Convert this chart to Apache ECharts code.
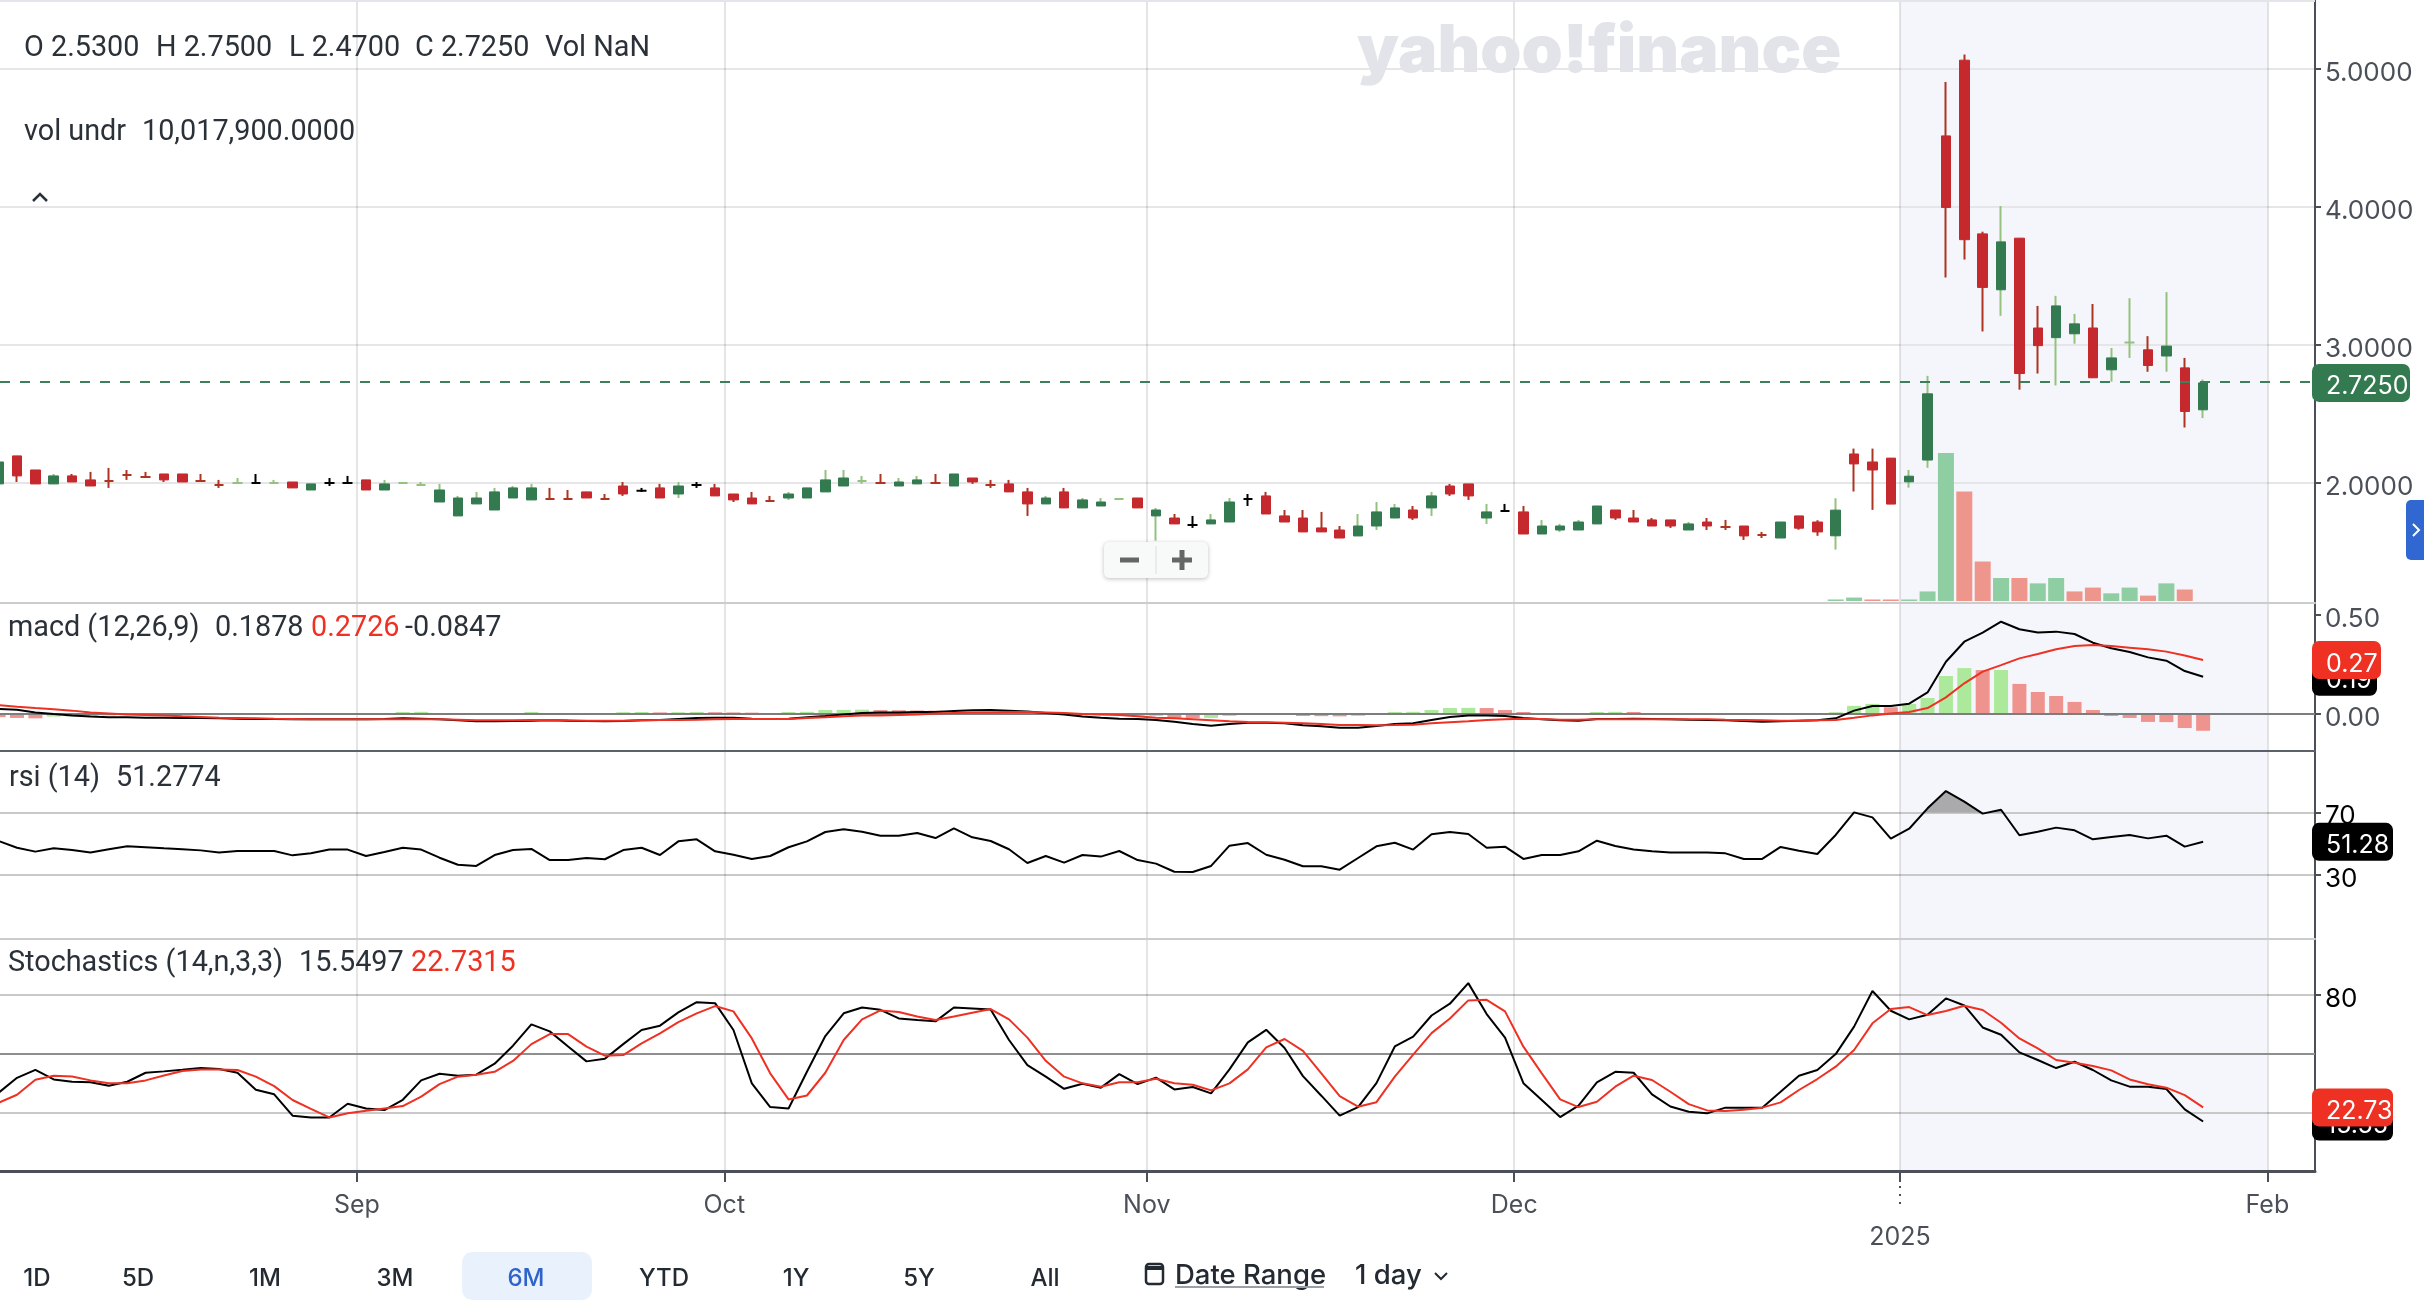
<!DOCTYPE html>
<html>
<head>
<meta charset="utf-8">
<title>Chart</title>
<script src="https://cdn.jsdelivr.net/npm/echarts@6/dist/echarts.min.js"></script>
<style>
html, body { margin: 0; padding: 0; background: #fff; }
#chart { width: 2424px; height: 1302px; }
</style>
</head>
<body>
<div id="chart"></div>
<script>
// daily candles
var opens = [
    1.993,2.196,2.094,1.993,2.051,2.022,2.014,2.058,2.043,2.065,
    2.065,2.014,1.986,2.000,2.000,2.000,2.007,1.949,2.000,2.000,
    2.022,1.949,2.000,1.986,1.862,1.761,1.848,1.804,1.891,1.877,
    1.884,1.884,1.935,1.884,1.978,1.944,1.964,1.920,1.986,1.964,
    1.920,1.891,1.870,1.891,1.891,1.935,1.978,2.014,2.000,1.978,
    1.993,2.000,1.978,2.036,1.986,1.993,1.935,1.848,1.935,1.819,
    1.833,1.884,1.891,1.761,1.746,1.696,1.703,1.717,1.884,1.906,
    1.761,1.746,1.674,1.659,1.616,1.688,1.746,1.804,1.819,1.978,
    1.993,1.746,1.797,1.790,1.630,1.659,1.659,1.703,1.804,1.746,
    1.732,1.732,1.659,1.717,1.681,1.688,1.623,1.601,1.761,1.717,
    1.617,2.210,2.152,2.180,2.008,2.166,4.515,5.064,3.805,3.400,
    3.774,3.123,3.053,3.081,3.123,2.820,3.017,2.965,2.920,2.834,2.530
];
var closes = [
    2.152,2.051,1.993,2.051,2.007,1.978,2.014,2.058,2.043,2.022,
    2.007,2.014,1.986,2.000,2.000,2.000,1.964,1.993,2.000,2.000,
    1.949,1.993,2.000,1.986,1.949,1.891,1.891,1.935,1.964,1.964,
    1.884,1.884,1.891,1.884,1.920,1.944,1.891,1.978,1.986,1.906,
    1.877,1.848,1.870,1.920,1.964,2.022,2.036,2.014,2.000,2.007,
    2.022,2.000,2.065,2.007,1.986,1.935,1.848,1.891,1.819,1.877,
    1.862,1.884,1.819,1.804,1.703,1.696,1.732,1.862,1.884,1.775,
    1.717,1.645,1.645,1.601,1.688,1.790,1.819,1.746,1.906,1.920,
    1.906,1.790,1.797,1.630,1.688,1.688,1.717,1.833,1.746,1.717,
    1.688,1.688,1.703,1.688,1.681,1.616,1.623,1.717,1.672,1.645,
    1.803,2.138,2.094,1.847,2.049,2.646,3.996,3.763,3.417,3.747,
    2.793,2.995,3.283,3.153,2.762,2.906,3.017,2.851,2.992,2.518,2.725
];
var lows = [
    1.993,2.007,1.993,1.993,2.007,1.978,1.964,2.022,2.036,2.007,
    2.007,2.007,1.964,1.993,1.993,1.993,1.964,1.949,1.978,1.993,
    1.949,1.949,1.993,1.978,1.862,1.761,1.848,1.804,1.891,1.877,
    1.877,1.877,1.891,1.877,1.906,1.935,1.891,1.891,1.964,1.906,
    1.862,1.848,1.862,1.877,1.891,1.935,1.978,1.993,1.993,1.978,
    1.993,1.993,1.978,1.993,1.964,1.935,1.761,1.848,1.819,1.819,
    1.833,1.877,1.819,1.582,1.703,1.674,1.703,1.717,1.833,1.775,
    1.717,1.645,1.645,1.601,1.616,1.659,1.746,1.732,1.761,1.906,
    1.877,1.703,1.790,1.630,1.630,1.645,1.659,1.703,1.732,1.717,
    1.688,1.674,1.659,1.659,1.659,1.587,1.601,1.601,1.661,1.617,
    1.517,1.938,1.805,1.847,1.966,2.110,3.489,3.619,3.098,3.211,
    2.676,2.793,2.707,3.009,2.762,2.734,2.906,2.806,2.806,2.402,2.470
];
var highs = [
    2.152,2.196,2.094,2.065,2.065,2.080,2.109,2.094,2.080,2.065,
    2.065,2.065,2.022,2.036,2.065,2.022,2.007,1.993,2.036,2.051,
    2.022,2.022,2.007,2.007,1.993,1.906,1.935,1.964,1.978,1.993,
    1.964,1.949,1.935,1.920,2.007,1.964,1.993,2.007,2.007,1.993,
    1.920,1.935,1.906,1.935,1.964,2.094,2.094,2.051,2.065,2.036,
    2.051,2.065,2.065,2.036,2.022,2.022,1.964,1.906,1.964,1.891,
    1.891,1.891,1.891,1.819,1.775,1.761,1.775,1.891,1.920,1.935,
    1.804,1.804,1.790,1.688,1.775,1.862,1.848,1.833,1.935,1.993,
    1.993,1.848,1.848,1.833,1.732,1.703,1.732,1.833,1.804,1.804,
    1.746,1.732,1.717,1.746,1.732,1.688,1.645,1.717,1.761,1.730,
    1.889,2.249,2.249,2.180,2.094,2.776,4.906,5.105,3.821,4.007,
    3.774,3.283,3.356,3.225,3.297,2.978,3.339,3.064,3.383,2.906,2.750
];
// volume only shows for the last days, first 100 are too small to see
var volumeStart = 100;
var volumes = [1,2.25,1,1,1,6.25,96.5,71.5,25.75,15,15,11.5,15,6.25,8.75,5,8.75,3.5,11.5,7.5];
// flat candles that are not drawn in the brown doji colour
var blackDoji = [14,18,19,35,38,65,68,82];
var greenDoji = [13,15,22,23,47,61,116];

var macdLine = [
    .025,.022,.008,0,-.007,-.013,-.017,-.017,-.019,-.019,
    -.020,-.020,-.022,-.024,-.025,-.025,-.027,-.027,-.027,-.027,
    -.027,-.025,-.022,-.024,-.027,-.032,-.037,-.037,-.035,-.034,
    -.032,-.034,-.035,-.037,-.035,-.032,-.030,-.025,-.020,-.019,
    -.019,-.024,-.025,
    -.024,-.017,-.010,-.002,.005,.007,.008,.010,.010,.015,
    .019,.020,.017,.012,.005,-.002,-.013,-.019,-.024,-.025,
    -.030,-.039,-.051,-.059,-.051,-.044,-.044,-.047,-.057,-.062,
    -.069,-.069,-.061,-.051,-.047,
    -.030,-.015,-.007,-.007,-.010,-.020,-.027,-.032,-.034,-.025,
    -.025,-.024,-.025,-.027,-.029,-.030,-.032,-.035,-.039,-.037,-.034,-.032,
    -.022,.017,.040,.040,.052,.109,.264,.365,.411,.466,
    .428,.412,.416,.404,.360,.332,.313,.286,.269,.217,.1878
];
var macdSignal = [
    .045,.037,.030,.024,.017,.008,.003,-.002,-.005,-.008,
    -.012,-.015,-.019,-.020,-.022,-.024,-.025,-.027,-.027,-.027,
    -.027,-.027,-.027,-.027,-.027,-.029,-.032,-.032,-.032,-.030,
    -.030,-.032,-.034,-.034,-.034,-.032,-.030,-.030,-.029,-.027,
    -.025,-.025,-.025,
    -.025,-.020,-.017,-.012,-.008,-.007,-.005,-.002,.002,.005,
    .007,.008,.010,.010,.008,.005,0,-.002,-.005,-.012,
    -.019,-.022,-.027,-.032,-.037,-.040,-.042,-.044,-.047,-.051,
    -.056,-.056,-.057,-.056,-.054,
    -.047,-.042,-.037,-.030,-.027,-.024,-.025,-.029,-.029,-.027,
    -.027,-.027,-.027,-.027,-.027,-.027,-.029,-.030,-.032,-.034,-.034,-.032,
    -.030,-.019,-.007,.002,.010,.030,.084,.155,.214,.247,
    .281,.303,.327,.343,.348,.343,.335,.327,.315,.295,.2726
];
var macdHist = [
    -.016,-.020,-.022,-.013,-.012,-.010,-.008,-.004,-.002,.002,.003,.003,.004,
    null,null,null,null,null,null,null,null,null,
    .010,.011,null,null,null,null,null,.010,null,null,null,null,
    .009,.010,.008,.009,.010,.009,.008,.007,null,
    .010,.011,.020,.021,.022,.020,.019,.018,.017,
    null,null,null,null,null,null,null,null,
    -.006,-.005,-.007,-.008,-.020,-.021,-.020,-.010,null,null,null,
    -.010,-.011,-.012,-.010,null,
    .010,.011,.020,.030,.031,.030,.020,.010,null,null,null,
    .010,.011,.010,null,null,null,null,null,null,null,null,null,null,
    .009,.041,.051,.034,.051,.081,.192,.232,.222,.222,
    .152,.111,.091,.061,.020,-.010,-.020,-.040,-.041,-.071,-.0847
];
var rsiLine = [
    51.8,47.5,45.0,47.1,46.0,44.5,46.5,48.4,47.8,47.1,
    46.5,45.8,44.5,45.4,45.4,45.4,42.6,43.9,46.3,46.3,
    42.2,44.8,47.5,46.3,41.1,36.6,35.8,42.8,46.0,46.7,
    39.6,39.6,40.9,40.1,46.0,47.5,42.8,51.6,52.9,45.2,
    43.0,40.3,42.2,
    47.8,51.6,57.6,59.3,57.8,55.2,55.2,57.0,53.7,59.9,
    54.2,51.8,46.5,37.7,42.2,37.9,42.8,41.8,45.4,39.6,
    37.3,32.1,31.9,35.8,48.8,50.5,43.0,39.8,35.6,35.6,
    33.4,40.9,48.4,50.7,46.3,56.1,57.6,56.3,47.5,48.2,
    40.3,42.8,
    42.8,45.2,52.0,48.6,46.3,45.2,44.5,44.5,44.5,43.9,
    40.3,40.3,48.0,45.6,43.5,
    55.7,70.2,67.0,53.3,59.7,72.8,83.9,77.1,69.4,71.9,
    55.5,57.8,60.4,58.7,52.9,54.4,55.7,53.5,55.2,48.2,51.28
];
var stochK = [
    30.2,37.8,41.9,37.0,35.8,35.5,33.8,35.8,40.4,41.1,
    41.9,42.8,42.3,40.4,31.7,29.4,18.5,17.6,17.6,24.6,
    22.2,21.4,26.6,36.5,39.9,38.9,39.4,45.0,54.2,65.1,
    61.5,53.8,46.2,47.5,55.0,62.2,64.4,71.2,76.4,75.9,
    62.2,35.0,22.9,22.2,40.9,59.1,70.7,73.7,72.5,68.1,
    67.3,66.6,73.7,73.2,72.7,57.1,44.3,38.4,32.2,34.8,
    32.8,39.7,34.6,37.9,31.9,33.1,29.9,42.1,55.9,62.3,
    53.0,38.7,28.7,18.5,22.9,35.1,53.8,58.8,69.6,75.6,
    86.1,70.3,58.3,35.1,26.5,17.8,23.6,35.5,40.9,40.4,
    29.4,23.2,20.5,19.7,22.6,22.6,22.6,
    30.7,38.9,41.8,49.9,63.9,82.1,72.0,67.6,70.0,78.3,
    74.7,63.5,59.8,50.8,46.9,42.8,46.0,41.8,36.5,33.3,
    33.3,32.1,21.7,15.55
];
var stochD = [
    25.1,29.2,36.8,38.9,38.5,36.5,35.1,35.0,36.5,39.0,
    41.3,42.1,42.1,41.8,38.4,33.6,26.5,22.0,17.6,19.7,
    21.0,22.2,23.4,28.2,34.6,38.4,39.4,40.9,46.4,55.0,
    60.1,60.1,53.7,49.1,49.4,55.4,60.5,66.2,70.7,74.4,
    71.7,57.9,40.1,26.8,28.8,40.4,57.1,67.6,72.2,71.4,
    69.1,67.3,69.1,71.0,72.9,67.6,58.3,46.5,38.4,35.0,
    33.3,35.6,35.6,37.3,35.0,34.3,31.4,35.0,42.1,53.3,
    57.6,51.6,40.1,28.5,23.1,25.4,38.4,49.6,60.6,68.1,
    77.3,77.6,71.7,53.7,40.1,26.8,22.9,25.6,33.3,38.9,
    36.7,30.7,24.4,21.2,20.9,21.5,22.6,
    25.3,31.6,37.2,43.5,52.0,65.6,72.9,73.9,69.8,71.9,
    74.6,72.4,65.9,57.9,52.8,46.9,45.5,43.8,41.6,37.0,
    34.5,32.8,29.0,22.73
];

// month boundaries sit between two trading days
var monthTicks = [19.5, 39.5, 62.5, 82.5, 103.5, 123.5];
var monthLabels = ['Sep', 'Oct', 'Nov', 'Dec', '\n2025', 'Feb'];
var priceTicks = [2, 3, 4, 5];
var macdTicks = [0, 0.5];
var rsiTicks = [30, 70];
var stochTicks = [20, 80];
var lastPrice = 2.725;

var GREEN = '#337a50', GREEN_WICK = '#94c27e';
var RED = '#c5292e', RED_WICK = '#ad3420';
var LINE_RED = '#ee3123';
var AXIS = '#4b5058';
var FONT = 'Inter';
var X_MIN = 0.0746, X_MAX = 126.09;

function pts(arr) {
    return arr.map(function (v, i) { return [i, v]; });
}

function wickColor(i) {
    if (opens[i] === closes[i]) {
        if (blackDoji.indexOf(i) >= 0) return '#000';
        if (greenDoji.indexOf(i) >= 0) return GREEN_WICK;
        return RED_WICK;
    }
    return closes[i] > opens[i] ? GREEN_WICK : RED_WICK;
}
function bodyColor(i) {
    if (opens[i] === closes[i]) return wickColor(i);
    return closes[i] > opens[i] ? GREEN : RED;
}
function paint(c, w) {
    return { color: c, color0: c, borderColor: c, borderColor0: c, borderWidth: w };
}

var wickData = opens.map(function (o, i) {
    return { value: [i, o, closes[i], lows[i], highs[i]], itemStyle: paint(wickColor(i), 2) };
});
var bodyData = opens.map(function (o, i) {
    return {
        value: [i, o, closes[i], Math.min(o, closes[i]), Math.max(o, closes[i])],
        itemStyle: paint(bodyColor(i), o === closes[i] ? 2 : 1)
    };
});
// volume bars follow the change from the day before
var volumeData = volumes.map(function (v, k) {
    var i = volumeStart + k;
    return { value: [i, v], itemStyle: { color: closes[i] >= closes[i - 1] ? '#8ecea2' : '#ee968c' } };
});

// rsi shading above 70, with the crossing points added
var rsiOver = [];
rsiLine.forEach(function (v, i) {
    if (i > 0) {
        var p = rsiLine[i - 1];
        if ((p - 70) * (v - 70) < 0) rsiOver.push([i - 1 + (70 - p) / (v - p), 70]);
    }
    rsiOver.push([i, Math.max(v, 70)]);
});

var band = { z: -1, silent: true, itemStyle: { color: '#f5f6fb' }, data: [[{ xAxis: monthTicks[4] }, { xAxis: monthTicks[5] }]] };

function xAxis(idx, lineColor, lineWidth, labels) {
    return {
        type: 'value', gridIndex: idx, min: X_MIN, max: X_MAX,
        axisLine: { onZero: false, lineStyle: { color: lineColor, width: lineWidth } },
        axisTick: { show: labels, customValues: monthTicks, length: 11, lineStyle: { color: AXIS, width: 2 } },
        splitLine: { show: true, lineStyle: { color: 'rgba(0,0,0,0.1)', width: 2 } },
        axisLabel: {
            show: labels, customValues: monthTicks, margin: 18, color: AXIS, fontFamily: FONT, fontSize: 25,
            lineHeight: 32, verticalAlign: 'top',
            formatter: function (v) { return monthLabels[monthTicks.indexOf(v)]; }
        }
    };
}
function yAxis(idx, min, max, ticks, digits, color, gridColor) {
    return {
        type: 'value', gridIndex: idx, position: 'right', min: min, max: max,
        axisLine: { show: true, onZero: false, lineStyle: { color: AXIS, width: 2 } },
        axisTick: { show: true, customValues: ticks, length: 6, lineStyle: { color: AXIS, width: 2 } },
        splitLine: { show: !!gridColor, lineStyle: { color: gridColor, width: 2 } },
        axisLabel: {
            customValues: ticks, margin: 10, color: color, fontFamily: FONT, fontSize: 26,
            verticalAlign: 'top', lineHeight: 8,
            formatter: function (v) { return v.toFixed(digits); }
        }
    };
}
function line(name, x, y, arr, color) {
    return {
        name: name, type: 'line', xAxisIndex: x, yAxisIndex: y, data: pts(arr),
        symbol: 'none', lineStyle: { color: color, width: 2 }, z: 5
    };
}
function guide(value, color) {
    return {
        silent: true, symbol: 'none', label: { show: false }, animation: false,
        lineStyle: { color: color, width: 2, type: 'solid' }, data: [{ yAxis: value }]
    };
}

var option = {
    animation: false,
    backgroundColor: '#fff',
    grid: [
        { left: 0, width: 2315, top: 0, height: 603 },
        { left: 0, width: 2315, top: 603, height: 148 },
        { left: 0, width: 2315, top: 751, height: 188 },
        { left: 0, width: 2315, top: 939, height: 232 }
    ],
    xAxis: [
        xAxis(0, '#cccccc', 2, false),
        xAxis(1, '#5c6068', 2, false),
        xAxis(2, '#cccccc', 2, false),
        xAxis(3, AXIS, 3, true)
    ],
    yAxis: [
        yAxis(0, 1.130, 5.5, priceTicks, 4, AXIS, '#e6e6e8'),
        yAxis(1, -0.1869, 0.5606, macdTicks, 2, AXIS, null),
        yAxis(2, -11.1, 109.6, rsiTicks, 0, '#000', '#c8c8c8'),
        yAxis(3, -9.7, 108.6, stochTicks, 0, '#000', '#c8c8c8'),
        { type: 'value', gridIndex: 0, show: false, min: -1.3, max: 392, splitLine: { show: false } }
    ],
    series: [
        {
            name: 'volume', type: 'bar', xAxisIndex: 0, yAxisIndex: 4, data: volumeData, barWidth: 16, z: 2,
            markArea: band
        },
        {
            name: 'wick', type: 'candlestick', xAxisIndex: 0, yAxisIndex: 0, data: wickData, barWidth: 1, z: 3,
            markLine: {
                silent: true, symbol: 'none', label: { show: false }, animation: false,
                lineStyle: { color: '#3b7f5b', width: 2, type: [10, 10] }, data: [{ yAxis: lastPrice }]
            }
        },
        { name: 'body', type: 'candlestick', xAxisIndex: 0, yAxisIndex: 0, data: bodyData, barWidth: 10, z: 4 },
        {
            name: 'hist', type: 'bar', xAxisIndex: 1, yAxisIndex: 1, data: pts(macdHist), barWidth: 14, z: 2,
            markArea: band, markLine: guide(0, '#7d7d7d'),
            itemStyle: {
                color: function (p) {
                    var prev = macdHist[p.dataIndex - 1] || 0;
                    return macdHist[p.dataIndex] >= prev ? '#ade99a' : '#ef938e';
                }
            }
        },
        line('macd', 1, 1, macdLine, '#000'),
        line('signal', 1, 1, macdSignal, LINE_RED),
        {
            name: 'over70', type: 'line', xAxisIndex: 2, yAxisIndex: 2, data: rsiOver, symbol: 'none',
            lineStyle: { width: 0 }, areaStyle: { color: '#aaaaac', opacity: 1, origin: 70 }, z: 3,
            markArea: band
        },
        line('rsi', 2, 2, rsiLine, '#000'),
        Object.assign(line('k', 3, 3, stochK, '#000'), { markArea: band, markLine: guide(50, '#8f8f8f') }),
        line('d', 3, 3, stochD, LINE_RED)
    ]
};

var chart = echarts.init(document.getElementById('chart'));
chart.setOption(option);

// text and furniture drawn around the plot
var graphics = [];
function label(x, y, text, opts) {
    opts = opts || {};
    graphics.push({
        type: 'text', z: opts.z || 50,
        style: {
            x: x, y: y, text: text, fill: opts.color || '#2b3138', textAlign: opts.align || 'left', textVerticalAlign: 'middle',
            font: (opts.weight || 400) + ' ' + (opts.size || 28.8) + 'px ' + (opts.family || 'Roboto')
        }
    });
}
function box(x, y, w, h, r, fill, z, extra) {
    graphics.push({
        type: 'rect', z: z || 40, shape: { x: x, y: y, width: w, height: h, r: r },
        style: Object.assign({ fill: fill }, extra || {})
    });
}
function poly(points, color, width, z, dash) {
    graphics.push({
        type: 'polyline', z: z || 50, shape: { points: points },
        style: { stroke: color, lineWidth: width, fill: null, lineDash: dash || null }
    });
}
var tagZ = 60;
function tag(axis, value, text, color, width) {
    var y = chart.convertToPixel({ yAxisIndex: axis }, value);
    box(2312, y - 19, width, 38, 7, color, tagZ);
    label(2326, y + 4, text, { color: '#fff', size: 25, family: FONT, z: tagZ + 1 });
    tagZ += 2;
}

// legends
label(24, 49, 'O 2.5300');
label(156, 49, 'H 2.7500');
label(289, 49, 'L 2.4700');
label(415, 49, 'C 2.7250');
label(545, 49, 'Vol NaN');
label(24, 133, 'vol undr');
label(142, 133, '10,017,900.0000');
poly([[33, 201], [40, 194], [47, 201]], '#2b3138', 2.5);
label(8, 629, 'macd (12,26,9)');
label(215, 629, '0.1878');
label(311, 629, '0.2726', { color: LINE_RED });
label(405, 629, '-0.0847');
label(9, 779, 'rsi (14)');
label(116, 779, '51.2774');
label(8, 964, 'Stochastics (14,n,3,3)');
label(299, 964, '15.5497');
label(411, 964, '22.7315', { color: LINE_RED });

// watermark
label(1357, 52, 'yahoo!finance', { color: '#e2e4e9', size: 66, weight: 900, family: 'Inter', z: 1 });

// top border
poly([[0, 1], [2315, 1]], '#e4e5ea', 2, 30);

// value tags
tag(0, lastPrice, '2.7250', GREEN, 98);
tag(1, 0.1878, '0.19', '#000', 65);
tag(1, 0.2726, '0.27', LINE_RED, 69);
tag(2, 51.28, '51.28', '#000', 81);
tag(3, 15.55, '15.55', '#000', 81);
tag(3, 22.73, '22.73', LINE_RED, 81);

// zoom control
box(1104, 542, 104, 36, 5, '#f8f9f9', 40, { shadowBlur: 4, shadowColor: 'rgba(0,0,0,0.25)', shadowOffsetY: 1 });
poly([[1156, 546], [1156, 574]], '#dddddd', 1, 41);
poly([[1120, 560], [1139, 560]], '#666666', 5, 41);
poly([[1172, 560], [1192, 560]], '#666666', 5, 41);
poly([[1182, 550], [1182, 570]], '#666666', 5, 41);

// blue side tab
box(2406, 500, 24, 60, 5, '#3067d0', 40);
poly([[2413, 524], [2419, 530], [2413, 536]], '#fff', 2, 41);

// dotted tail under the 2025 tick
var jan = chart.convertToPixel({ xAxisIndex: 3 }, monthTicks[4]);
poly([[jan, 1186], [jan, 1209]], AXIS, 2, 41, [2, 6]);

// range buttons
var ranges = ['1D', '5D', '1M', '3M', '6M', 'YTD', '1Y', '5Y', 'All'];
var rangeX = [37, 138, 265, 395, 526, 664, 796, 919, 1045];
box(462, 1252, 130, 48, 10, '#e9f2fc', 40);
ranges.forEach(function (r, i) {
    label(rangeX[i], 1279, r, { align: 'center', size: 24, weight: 500, family: FONT, color: r === '6M' ? '#2e63c9' : '#232a31' });
});
graphics.push({ type: 'rect', z: 50, shape: { x: 1146, y: 1264, width: 17, height: 20, r: 3 }, style: { fill: null, stroke: '#232a31', lineWidth: 2.5 } });
poly([[1146, 1268], [1163, 1268]], '#232a31', 4);
label(1175, 1276, 'Date Range', { size: 27.5, weight: 500, family: FONT, color: '#232a31' });
poly([[1175, 1287], [1324, 1287]], '#9aa0a8', 2);
label(1355, 1276, '1 day', { size: 27.5, weight: 500, family: FONT, color: '#232a31' });
poly([[1435, 1273], [1441, 1279], [1447, 1273]], '#232a31', 2);

chart.setOption({ graphic: { elements: graphics } });
</script>
</body>
</html>
